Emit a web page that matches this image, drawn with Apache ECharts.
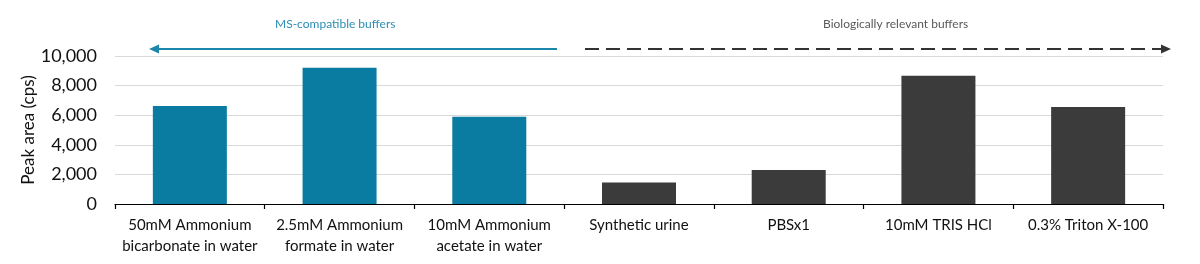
<!DOCTYPE html>
<html>
<head>
<meta charset="utf-8">
<script src="https://cdn.jsdelivr.net/npm/echarts@6/dist/echarts.min.js"></script>
<style>
  html, body { margin: 0; padding: 0; background: #fff; }
  #main { width: 1200px; height: 264px; }
</style>
</head>
<body>
<div id="main"></div>
<script>
// 数据
const categories = [
  '50mM Ammonium\nbicarbonate in water',
  '2.5mM Ammonium\nformate in water',
  '10mM Ammonium\nacetate in water',
  'Synthetic urine',
  'PBSx1',
  '10mM TRIS HCl',
  '0.3% Triton X-100'
];
const peakArea = [6620, 9210, 5900, 1450, 2300, 8670, 6550];
const groupOf = ['ms', 'ms', 'ms', 'bio', 'bio', 'bio', 'bio'];
const groupColor = { ms: '#0a7ba1', bio: '#3b3b3b' };

const chart = echarts.init(document.getElementById('main'));

const font = 'Lato, "Noto Sans", sans-serif';

const option = {
  animation: false,
  grid: { left: 115, right: 37, top: 56, bottom: 60 },
  xAxis: {
    type: 'category',
    data: categories,
    axisLine: { lineStyle: { color: '#000', width: 1.2 } },
    axisTick: { show: true, length: 5, lineStyle: { color: '#000', width: 1.2 } },
    axisLabel: {
      color: '#111', fontSize: 15, fontFamily: font,
      lineHeight: 21, margin: 11, interval: 0
    }
  },
  yAxis: {
    type: 'value',
    min: 0, max: 10000, interval: 2000,
    name: 'Peak area (cps)',
    nameLocation: 'middle',
    nameGap: 78,
    nameMoveOverlap: false,
    nameTextStyle: { color: '#111', fontSize: 17, fontFamily: font },
    axisLine: { show: false },
    axisTick: { show: false },
    axisLabel: {
      color: '#111', fontSize: 18, fontFamily: font, margin: 18,
      formatter: v => v.toLocaleString('en-US')
    },
    splitLine: { lineStyle: { color: '#d9d9d9', width: 1 } }
  },
  series: [{
    type: 'bar',
    barWidth: 74,
    data: peakArea.map((v, i) => ({
      value: v,
      itemStyle: { color: groupColor[groupOf[i]] }
    }))
  }],
  graphic: [
    // MS-compatible 箭头
    { type: 'line', shape: { x1: 156, y1: 49, x2: 557, y2: 49 },
      style: { stroke: '#1a86aa', lineWidth: 2 } },
    { type: 'polygon', shape: { points: [[149, 49], [159, 44.5], [159, 53.5]] },
      style: { fill: '#1a86aa' } },
    { type: 'text', left: 275, top: 18,
      style: { text: 'MS-compatible buffers', fill: '#2a8db3', font: '12px ' + font } },
    // Biologically relevant 箭头
    { type: 'line', shape: { x1: 585, y1: 49, x2: 1163, y2: 49 },
      style: { stroke: '#333', lineWidth: 2, lineDash: [14, 7] } },
    { type: 'polygon', shape: { points: [[1171, 49], [1161, 44.5], [1161, 53.5]] },
      style: { fill: '#333' } },
    { type: 'text', left: 823, top: 18,
      style: { text: 'Biologically relevant buffers', fill: '#595959', font: '12px ' + font } }
  ]
};

chart.setOption(option);
</script>
</body>
</html>
